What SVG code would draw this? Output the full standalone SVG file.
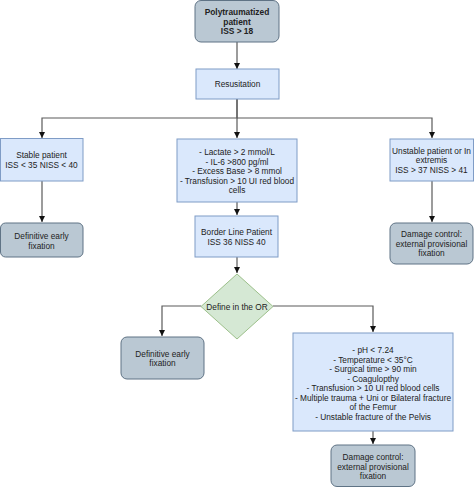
<svg xmlns="http://www.w3.org/2000/svg" width="474" height="487" viewBox="0 0 474 487">
<defs>
<style>
.bg{fill:#ffffff}
.gb{fill:#bac8d3;stroke:#5f7385;stroke-width:1}
.lb{fill:#dae8fc;stroke:#7f9cc6;stroke-width:1}
.gr{fill:#d5e8d4;stroke:#9cc08a;stroke-width:1}
text{font-family:"Liberation Sans",Arial,sans-serif;font-size:8.3px;fill:#222;text-anchor:middle}
.b{font-weight:bold;font-size:8.4px}
.c{fill:none;stroke:#5a5a5a;stroke-width:1.2;marker-end:url(#ah)}
</style>
<marker id="ah" markerUnits="userSpaceOnUse" markerWidth="7" markerHeight="7" refX="6" refY="3" orient="auto">
<path d="M0,0 L6,3 L0,6 Z" fill="#111"/>
</marker>
</defs>
<rect class="bg" x="0" y="0" width="474" height="487"/>
<g id="connectors">
<path class="c" d="M237 42 V69"/>
<path class="c" d="M237 99 V118 H42 V138"/>
<path class="c" d="M237 99 V138"/>
<path class="c" d="M237 118 H432 V138"/>
<path class="c" d="M42 181 V222"/>
<path class="c" d="M237 202 V215"/>
<path class="c" d="M432 181 V222"/>
<path class="c" d="M237 257 V273"/>
<path class="c" d="M201 306 H162 V336"/>
<path class="c" d="M273 306 H373 V332"/>
<path class="c" d="M373 431 V444"/>
</g>
<g id="polytraumatized">
<rect class="gb" x="195" y="0.5" width="84" height="41.5" rx="6"/>
<text class="b" x="237" y="15">Polytraumatized</text>
<text class="b" x="237" y="24.5">patient</text>
<text class="b" x="237" y="34">ISS &gt; 18</text>
</g>
<g id="resusitation">
<rect class="lb" x="196" y="69" width="83" height="30"/>
<text x="237.5" y="87">Resusitation</text>
</g>
<g id="stable">
<rect class="lb" x="0.5" y="138.5" width="82.5" height="42.5"/>
<text x="41.5" y="158">Stable patient</text>
<text x="41.5" y="167.5">ISS &lt; 35 NISS &lt; 40</text>
</g>
<g id="definitive-left">
<rect class="gb" x="0.5" y="223" width="82.5" height="34" rx="5"/>
<text x="41.5" y="239">Definitive early</text>
<text x="41.5" y="248.5">fixation</text>
</g>
<g id="criteria-top">
<rect class="lb" x="177" y="139" width="120" height="63"/>
<text x="237" y="155">- Lactate &gt; 2 mmol/L</text>
<text x="237" y="164.5">- IL-6 &gt;800 pg/ml</text>
<text x="237" y="174">- Excess Base &gt; 8 mmol</text>
<text x="237" y="183.5">- Transfusion &gt; 10 UI red blood</text>
<text x="237" y="193">cells</text>
</g>
<g id="borderline">
<rect class="lb" x="195" y="216" width="83" height="41"/>
<text x="236.5" y="235">Border Line Patient</text>
<text x="236.5" y="244.5">ISS 36 NISS 40</text>
</g>
<g id="unstable">
<rect class="lb" x="390" y="139" width="83.5" height="42"/>
<text x="431.5" y="153.5">Unstable patient or In</text>
<text x="431.5" y="163">extremis</text>
<text x="431.5" y="172.5">ISS &gt; 37 NISS &gt; 41</text>
</g>
<g id="damage-right">
<rect class="gb" x="390" y="223" width="83" height="41" rx="6"/>
<text x="431.5" y="237">Damage control:</text>
<text x="431.5" y="246.5">external provisional</text>
<text x="431.5" y="256">fixation</text>
</g>
<g id="define-or">
<polygon class="gr" points="237,274 273,306.5 237,339 201,306.5"/>
<text x="237" y="309.5">Define in the OR</text>
</g>
<g id="definitive-bottom">
<rect class="gb" x="121" y="337" width="83" height="42" rx="6"/>
<text x="162.5" y="356.5">Definitive early</text>
<text x="162.5" y="366">fixation</text>
</g>
<g id="criteria-bottom">
<rect class="lb" x="293" y="333" width="160" height="98"/>
<text x="373" y="353">- pH &lt; 7.24</text>
<text x="373" y="362.5">- Temperature &lt; 35°C</text>
<text x="373" y="372">- Surgical time &gt; 90 min</text>
<text x="373" y="381.5">- Coagulopthy</text>
<text x="373" y="391">- Transfusion &gt; 10 UI red blood cells</text>
<text x="373" y="400.5">- Multiple trauma + Uni or Bilateral fracture</text>
<text x="373" y="410">of the Femur</text>
<text x="373" y="419.5">- Unstable fracture of the Pelvis</text>
</g>
<g id="damage-bottom">
<rect class="gb" x="331" y="445" width="84" height="41.5" rx="6"/>
<text x="373" y="460">Damage control:</text>
<text x="373" y="469.5">external provisional</text>
<text x="373" y="479">fixation</text>
</g>
</svg>
